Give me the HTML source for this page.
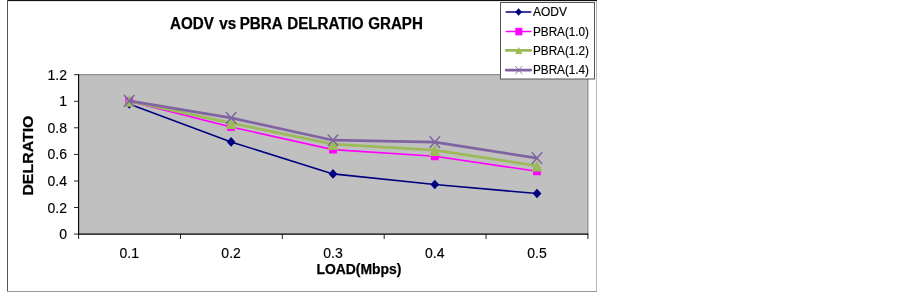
<!DOCTYPE html>
<html><head><meta charset="utf-8"><title>AODV vs PBRA DELRATIO GRAPH</title>
<style>
html,body{margin:0;padding:0;background:#fff;}
body{width:902px;height:292px;overflow:hidden;}
svg{display:block;}
text{font-family:"Liberation Sans",Arial,sans-serif;fill:#000;stroke:#000;stroke-width:0.15px;}
.b{font-weight:bold;stroke-width:0.25px;}
</style></head><body>
<svg width="902" height="292" viewBox="0 0 902 292">
<rect x="0" y="0" width="902" height="292" fill="#fff"/>
<!-- chart frame -->
<rect x="7" y="0" width="590" height="1" fill="#111"/>
<rect x="7" y="1" width="590" height="1" fill="#e4e4e4"/>
<rect x="7" y="0" width="1" height="292" fill="#555"/>
<rect x="596" y="1" width="1" height="291" fill="#b8b8b8"/>
<rect x="7" y="291" width="590" height="1" fill="#999"/>

<rect x="78.6" y="74.7" width="509.3" height="159.4" fill="#c0c0c0"/>
<path d="M78.6 74.7H587.9V234.1" stroke="#787878" stroke-width="1" fill="none"/>
<path d="M74.1 234.1H78.6M74.1 207.5H78.6M74.1 181.0H78.6M74.1 154.4H78.6M74.1 127.8H78.6M74.1 101.3H78.6M74.1 74.7H78.6M78.6 234.1V239.0M180.5 234.1V239.0M282.3 234.1V239.0M384.2 234.1V239.0M486.0 234.1V239.0M587.9 234.1V239.0" stroke="#222" stroke-width="1" fill="none"/>
<path d="M78.6 74.2V234.7" stroke="#000" stroke-width="1.1" fill="none"/>
<path d="M78.1 234.1H588.4" stroke="#000" stroke-width="1.3" fill="none"/>
<text x="67" y="239.1" font-size="14" text-anchor="end">0</text>
<text x="67" y="212.5" font-size="14" text-anchor="end">0.2</text>
<text x="67" y="186.0" font-size="14" text-anchor="end">0.4</text>
<text x="67" y="159.4" font-size="14" text-anchor="end">0.6</text>
<text x="67" y="132.8" font-size="14" text-anchor="end">0.8</text>
<text x="67" y="106.3" font-size="14" text-anchor="end">1</text>
<text x="67" y="79.7" font-size="14" text-anchor="end">1.2</text>
<text x="129.2" y="258" font-size="14" text-anchor="middle">0.1</text>
<text x="231.1" y="258" font-size="14" text-anchor="middle">0.2</text>
<text x="333.0" y="258" font-size="14" text-anchor="middle">0.3</text>
<text x="434.8" y="258" font-size="14" text-anchor="middle">0.4</text>
<text x="537.0" y="258" font-size="14" text-anchor="middle">0.5</text>
<text class="b" x="170.0" y="28.6" font-size="16" textLength="43.8" lengthAdjust="spacingAndGlyphs">AODV</text>
<text class="b" x="219.3" y="28.6" font-size="16" textLength="16.9" lengthAdjust="spacingAndGlyphs">vs</text>
<text class="b" x="239.7" y="28.6" font-size="16" textLength="43.0" lengthAdjust="spacingAndGlyphs">PBRA</text>
<text class="b" x="287.2" y="28.6" font-size="16" textLength="76.4" lengthAdjust="spacingAndGlyphs">DELRATIO</text>
<text class="b" x="368.2" y="28.6" font-size="16" textLength="54.7" lengthAdjust="spacingAndGlyphs">GRAPH</text>
<text class="b" x="316.4" y="274" font-size="14" textLength="85" lengthAdjust="spacingAndGlyphs">LOAD(Mbps)</text>
<text class="b" transform="translate(33.4 195.6) rotate(-90)" font-size="14" textLength="80" lengthAdjust="spacingAndGlyphs">DELRATIO</text>
<polyline points="129.2,104.0 231.1,141.9 333.0,173.9 434.8,184.5 537.0,193.5" stroke="#000080" stroke-width="1.6" fill="none"/>
<path d="M129.2 99.2L133.6 104.0L129.2 108.8L124.8 104.0Z" fill="#000080"/>
<path d="M231.1 137.1L235.5 141.9L231.1 146.7L226.7 141.9Z" fill="#000080"/>
<path d="M333.0 169.1L337.4 173.9L333.0 178.7L328.6 173.9Z" fill="#000080"/>
<path d="M434.8 179.7L439.2 184.5L434.8 189.3L430.4 184.5Z" fill="#000080"/>
<path d="M537.0 188.7L541.4 193.5L537.0 198.3L532.6 193.5Z" fill="#000080"/>
<polyline points="129.2,101.1 231.1,127.0 333.0,149.6 434.8,156.3 537.0,171.3" stroke="#ff00ff" stroke-width="1.6" fill="none"/>
<rect x="125.3" y="97.2" width="7.8" height="7.8" fill="#ff00ff"/>
<rect x="227.2" y="123.1" width="7.8" height="7.8" fill="#ff00ff"/>
<rect x="329.1" y="145.7" width="7.8" height="7.8" fill="#ff00ff"/>
<rect x="430.9" y="152.4" width="7.8" height="7.8" fill="#ff00ff"/>
<rect x="533.1" y="167.4" width="7.8" height="7.8" fill="#ff00ff"/>
<polyline points="129.2,100.9 231.1,123.1 333.0,144.1 434.8,150.1 537.0,165.8" stroke="#9bbb59" stroke-width="2.7" fill="none" stroke-linejoin="round"/>
<path d="M129.2 95.1L134.6 106.7L123.8 106.7Z" fill="#9bbb59"/>
<path d="M231.1 117.3L236.5 128.9L225.7 128.9Z" fill="#9bbb59"/>
<path d="M333.0 138.3L338.4 149.9L327.6 149.9Z" fill="#9bbb59"/>
<path d="M434.8 144.3L440.2 155.9L429.4 155.9Z" fill="#9bbb59"/>
<path d="M537.0 160.0L542.4 171.6L531.6 171.6Z" fill="#9bbb59"/>
<polyline points="129.2,100.9 231.1,117.9 333.0,140.2 434.8,142.1 537.0,158.1" stroke="#8064a2" stroke-width="2.7" fill="none" stroke-linejoin="round"/>
<path d="M124.0 95.1L134.4 106.7M134.4 95.1L124.0 106.7" stroke="#8064a2" stroke-width="1.5" fill="none"/>
<path d="M225.9 112.1L236.3 123.7M236.3 112.1L225.9 123.7" stroke="#8064a2" stroke-width="1.5" fill="none"/>
<path d="M327.8 134.4L338.2 146.0M338.2 134.4L327.8 146.0" stroke="#8064a2" stroke-width="1.5" fill="none"/>
<path d="M429.6 136.3L440.0 147.9M440.0 136.3L429.6 147.9" stroke="#8064a2" stroke-width="1.5" fill="none"/>
<path d="M531.8 152.3L542.2 163.9M542.2 152.3L531.8 163.9" stroke="#8064a2" stroke-width="1.5" fill="none"/>
<rect x="500.5" y="2.5" width="94" height="76.5" fill="#fff" stroke="#555" stroke-width="1"/>
<path d="M506.2 12.0H530.8" stroke="#000080" stroke-width="1.5" stroke-linecap="round" fill="none"/>
<text x="533" y="15.6" font-size="12">AODV</text>
<path d="M506.2 31.5H530.8" stroke="#ff00ff" stroke-width="1.5" stroke-linecap="round" fill="none"/>
<text x="533" y="35.7" font-size="12" textLength="56" lengthAdjust="spacingAndGlyphs">PBRA(1.0)</text>
<path d="M506.2 50.4H530.8" stroke="#9bbb59" stroke-width="2.7" stroke-linecap="round" fill="none"/>
<text x="533" y="54.6" font-size="12" textLength="56" lengthAdjust="spacingAndGlyphs">PBRA(1.2)</text>
<path d="M506.2 70.1H530.8" stroke="#8064a2" stroke-width="2.8" stroke-linecap="round" fill="none"/>
<text x="533" y="74.3" font-size="12" textLength="56" lengthAdjust="spacingAndGlyphs">PBRA(1.4)</text>
<path d="M518.6 8.2L522.0 12.0L518.6 15.8L515.2 12.0Z" fill="#000080"/>
<rect x="515.3" y="27.8" width="7" height="7.5" fill="#ff00ff"/>
<path d="M518.8 47.1L522.4 54.1L515.2 54.1Z" fill="#9bbb59"/>
<path d="M515.3 66.0L522.3 74.2M522.3 66.0L515.3 74.2" stroke="#8064a2" stroke-width="0.8" fill="none"/>
</svg></body></html>
